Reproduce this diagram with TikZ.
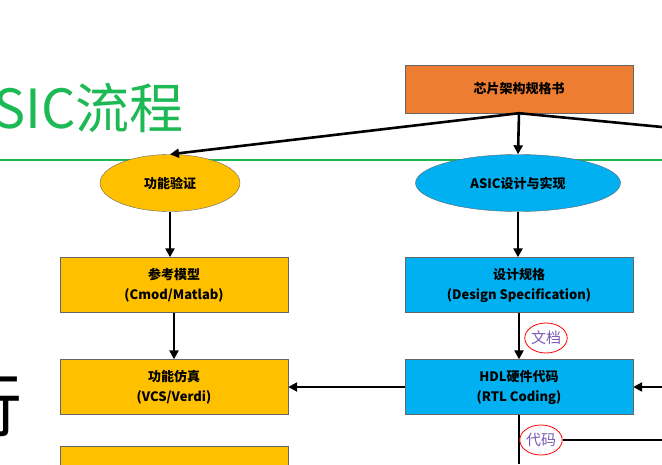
\documentclass[tikz,border=0pt]{standalone}
\usepackage{fontspec}
\setmainfont{Noto Sans CJK SC}
\usetikzlibrary{positioning,arrows.meta,shapes.geometric}
\definecolor{orange1}{HTML}{ED7D31}
\definecolor{yellow1}{HTML}{FFC000}
\definecolor{blue1}{HTML}{00B0F0}
\definecolor{green1}{HTML}{1DB954}
\definecolor{note1}{HTML}{7A5BB5}
\begin{document}
\begin{tikzpicture}[x=1pt,y=-1pt,
    box/.style={draw=black!60, minimum width=228pt, minimum height=55pt,
                font=\bfseries\fontsize{13}{20}\selectfont, align=center, inner sep=0pt},
    oval/.style={ellipse, draw=black!60, minimum height=57pt,
                 font=\bfseries\fontsize{13}{15}\selectfont, inner sep=0pt},
    note/.style={ellipse, draw=red, thick, fill=white, text=note1,
                 minimum width=36pt, minimum height=30pt, inner sep=0pt,
                 font=\fontsize{15}{15}\selectfont},
    arr/.style={-{Triangle[length=9pt,width=9pt]}, line width=2.6pt},
    ln/.style={line width=2.6pt},
]
\useasboundingbox (0,0) rectangle (662,464);
\clip (0,0) rectangle (662,464);
% title
\node[text=green1, anchor=west, font=\fontsize{54}{54}\selectfont, inner sep=0pt] (title) at (-40,108) {ASIC流程};
\draw[green1, line width=2.5pt] (0,160) -- (662,160);
\node[font=\fontsize{70}{70}\selectfont, inner sep=0pt] (side) at (-12,405) {行};
% top
\node[box, fill=orange1, minimum height=48pt] (spec) at (519,89) {芯片架构规格书};
\coordinate (right1) at (662,127);
\node[oval, fill=yellow1, minimum width=140pt] (verif) at (170,183) {功能验证};
\node[oval, fill=blue1, minimum width=205pt] (impl) at (518,183) {ASIC设计与实现};
% boxes
\node[box, fill=yellow1] (model) at (174,285) {参考模型\\(Cmod/Matlab)};
\node[box, fill=blue1] (dspec) at (519,285) {设计规格\\(Design Specification)};
\node[box, fill=yellow1] (sim) at (174,387) {功能仿真\\(VCS/Verdi)};
\node[box, fill=blue1] (hdl) at (519,387) {HDL硬件代码\\(RTL Coding)};
\node[box, fill=yellow1, anchor=north] (next) at (174,446) {};
\coordinate (right2) at (662,387);
\coordinate (bottom) at (519,464);
\coordinate (right3) at (662,440);
% connectors
\draw[arr] (spec.south) -- (verif.north);
\draw[arr] (spec.south) -- (impl.north);
\draw[ln] (spec.south) -- (right1);
\draw[arr] (verif.south) -- (verif.south |- model.north);
\draw[arr] (impl.south) -- (impl.south |- dspec.north);
\draw[arr] (model.south) -- (sim.north);
\draw[arr] (dspec.south) -- (hdl.north);
\draw[arr] (hdl.west) -- (sim.east);
\draw[arr] (right2) -- (hdl.east);
\draw[ln] (hdl.south) -- (bottom);
\node[note] (doc) at (546,338) {文档};
\node[note] (code) at (541,440) {代码};
\draw[ln] (code.east) -- (right3);
\end{tikzpicture}
\end{document}
